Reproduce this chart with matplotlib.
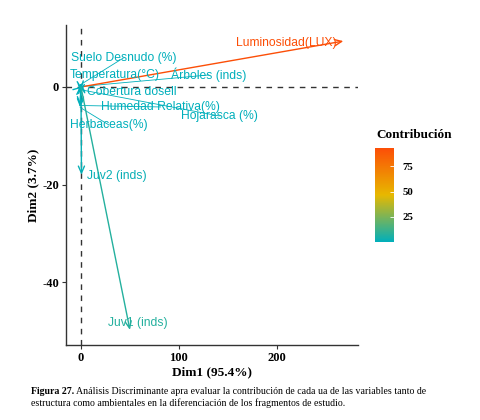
import numpy as np
import matplotlib.pyplot as plt
import matplotlib as mpl
from matplotlib.colors import LinearSegmentedColormap, Normalize

plt.rcParams["axes.unicode_minus"] = False

# variable coordinates on the first two discriminant dimensions
variables = ["Luminosidad(LUX)", "Suelo Desnudo (%)", "Temperatura(°C)", "Árboles (inds)",
             "Cobertura dosell", "Humedad Relativa(%)", "Hojarasca (%)", "Herbaceas(%)",
             "Juv2 (inds)", "Juv1 (inds)"]
dim1 = [268.0, -0.3, -0.5, 0.6, -0.7, -1.0, 0.4, -0.8, 0.5, 50.0]
dim2 = [9.4, 0.5, 0.8, 0.1, -1.2, -3.8, -0.6, -4.2, -18.0, -49.8]
contrib = [93.2, 0.02, 0.03, 0.05, 0.02, 0.1, 0.04, 0.1, 1.5, 7.5]

# where the repelled labels ended up (data units)
label_x = [210.0, 43.4, 34.7, 130.6, 52.0, 81.6, 141.3, 28.6, 36.7, 58.2]
label_y = [9.0, 5.95, 2.46, 2.46, -1.03, -4.1, -5.95, -7.8, -18.3, -48.4]
draw_segment = [False, True, False, True, False, True, True, True, False, False]

cmap = LinearSegmentedColormap.from_list("contrib", ["#00AFBB", "#E7B800", "#FC4E07"])
norm = Normalize(vmin=min(contrib), vmax=max(contrib))

fig = plt.figure(figsize=(4.81, 4.20), dpi=100)
ax = fig.add_axes([66 / 481, 1 - 345 / 420, (358 - 66) / 481, (345 - 25) / 420])

ax.axhline(0, color="#333333", linestyle=(0, (4, 4)), linewidth=1.0, zorder=1)
ax.axvline(0, color="#333333", linestyle=(0, (4, 4)), linewidth=1.0, zorder=1)

fig.canvas.draw()
renderer = fig.canvas.get_renderer()

for name, x, y, c, lx, ly, seg in zip(variables, dim1, dim2, contrib, label_x, label_y, draw_segment):
    col = cmap(norm(c))
    ax.annotate("", xy=(x, y), xytext=(0, 0),
                arrowprops=dict(arrowstyle="->,head_length=0.5,head_width=0.22",
                                color=col, lw=1.0, shrinkA=0, shrinkB=0), zorder=3)
    t = ax.text(lx, ly, name, color=col, fontsize=8.7, family="Liberation Sans",
                ha="center", va="center", zorder=4)
    if seg:
        # segment from the arrow tip to the edge of the label box
        bb = t.get_window_extent(renderer)
        px, py = ax.transData.transform((x, y))
        cx, cy = (bb.x0 + bb.x1) / 2, (bb.y0 + bb.y1) / 2
        dx, dy = px - cx, py - cy
        s = min(abs((bb.width / 2) / dx) if dx else np.inf,
                abs((bb.height / 2) / dy) if dy else np.inf)
        ex, ey = cx + dx * s, cy + dy * s
        ex, ey = ax.transData.inverted().transform((ex, ey))
        ax.plot([x, ex], [y, ey], color=col, lw=0.6, zorder=2)

ax.set_xlim(-15.3, 283)
ax.set_ylim(-52.9, 12.7)
ax.set_xticks([0, 100, 200])
ax.set_yticks([-40, -20, 0])
for side in ["top", "right"]:
    ax.spines[side].set_visible(False)
for side in ["left", "bottom"]:
    ax.spines[side].set_linewidth(1.0)
    ax.spines[side].set_color("#333333")
ax.tick_params(length=3, width=0.8, color="#333333", labelsize=9, pad=2)
for lab in ax.get_xticklabels() + ax.get_yticklabels():
    lab.set_family("Liberation Serif")
    lab.set_fontweight("bold")
ax.set_xlabel("Dim1 (95.4%)", family="Liberation Serif", fontweight="bold", fontsize=9.5, labelpad=2)
ax.set_ylabel("Dim2 (3.7%)", family="Liberation Serif", fontweight="bold", fontsize=9.5, labelpad=2)

# colour bar for contribution
cax = fig.add_axes([375 / 481, 1 - 242 / 420, 19 / 481, 94 / 420])
cb = fig.colorbar(mpl.cm.ScalarMappable(norm=norm, cmap=cmap), cax=cax)
cb.outline.set_visible(False)
cb.set_ticks([25, 50, 75])
cax.tick_params(length=3, width=0.6, color="white", direction="in", labelsize=7.8, pad=6)
for lab in cax.get_yticklabels():
    lab.set_family("Liberation Serif")
    lab.set_fontweight("bold")
fig.text(376 / 481, 1 - 135 / 420, "Contribución", family="Liberation Serif",
         fontweight="bold", fontsize=9.5, va="center")

# caption
cap_size = 7.1
head = fig.text(31 / 481, 1 - 391 / 420, "Figura 27.", family="Liberation Serif",
                fontweight="bold", fontsize=cap_size, va="center")
hb = head.get_window_extent(renderer)
fig.text((hb.x1 + 2) / 481, 1 - 391 / 420,
         "Análisis Discriminante apra evaluar la contribución de cada ua de las variables tanto de",
         family="Liberation Serif", fontsize=cap_size, va="center")
fig.text(31 / 481, 1 - 403 / 420,
         "estructura como ambientales en la diferenciación de los fragmentos de estudio.",
         family="Liberation Serif", fontsize=cap_size, va="center")

fig.savefig("out.png", dpi=100)
